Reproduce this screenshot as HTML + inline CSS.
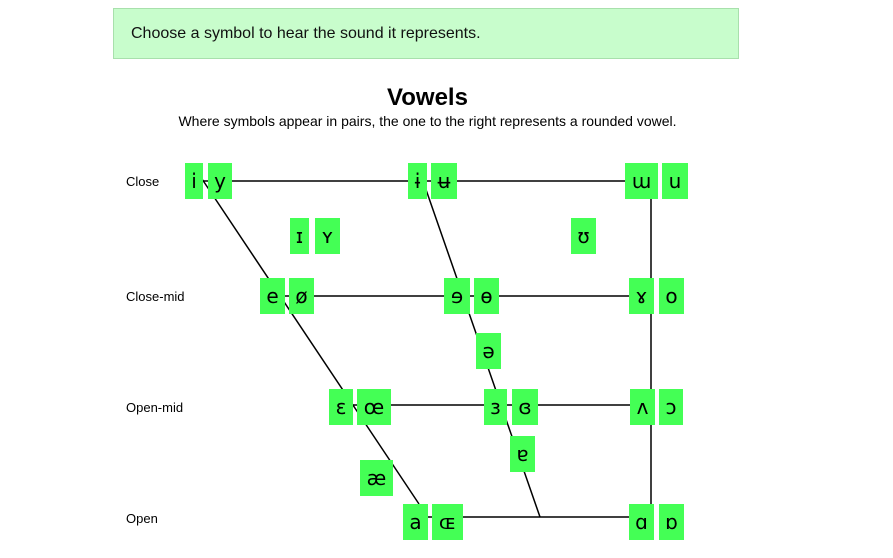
<!DOCTYPE html>
<html><head><meta charset="utf-8"><style>
html,body{margin:0;padding:0;background:#fff;width:893px;height:558px;overflow:hidden;font-family:"Liberation Sans",sans-serif;}
.banner{position:absolute;left:113px;top:8px;width:624px;height:49px;background:#c8fdcc;border:1px solid #a8e0ac;}
.banner span{position:absolute;left:17px;top:16px;font-size:16px;color:#111;}
.t{position:absolute;left:0;width:855px;text-align:center;color:#000;}
.b{position:absolute;background:#44ff55;font-family:"DejaVu Sans",sans-serif;font-size:20px;color:#000;display:flex;align-items:center;justify-content:center;height:36px;}
.l{position:absolute;left:126px;font-size:13px;color:#000;}
</style></head><body>
<div class="banner"><span>Choose a symbol to hear the sound it represents.</span></div>
<div class="t" style="top:84px;font-size:24px;font-weight:bold;">Vowels</div>
<div class="t" style="top:113px;font-size:14px;">Where symbols appear in pairs, the one to the right represents a rounded vowel.</div>
<svg style="position:absolute;left:0;top:0" width="893" height="558">
<g stroke="#000" stroke-width="1.5" fill="none">
<line x1="203" y1="181" x2="651" y2="181"/>
<line x1="285" y1="296" x2="651" y2="296"/>
<line x1="353" y1="405" x2="651" y2="405"/>
<line x1="428" y1="517" x2="651" y2="517"/>
<line x1="651" y1="181" x2="651" y2="517"/>
<line x1="200" y1="176" x2="419" y2="504"/>
<line x1="423" y1="181" x2="540" y2="517"/>
</g></svg>
<div class="l" style="top:174px">Close</div>
<div class="l" style="top:289px">Close-mid</div>
<div class="l" style="top:400px">Open-mid</div>
<div class="l" style="top:511px">Open</div>
<div class="b" style="left:185px;top:163px;width:18px">i</div>
<div class="b" style="left:208px;top:163px;width:24px">y</div>
<div class="b" style="left:408px;top:163px;width:19px">ɨ</div>
<div class="b" style="left:431px;top:163px;width:26px">ʉ</div>
<div class="b" style="left:625px;top:163px;width:33px">ɯ</div>
<div class="b" style="left:662px;top:163px;width:26px">u</div>
<div class="b" style="left:290px;top:218px;width:19px">ɪ</div>
<div class="b" style="left:315px;top:218px;width:25px">ʏ</div>
<div class="b" style="left:571px;top:218px;width:25px">ʊ</div>
<div class="b" style="left:260px;top:278px;width:25px">e</div>
<div class="b" style="left:289px;top:278px;width:25px">ø</div>
<div class="b" style="left:444px;top:278px;width:26px">ɘ</div>
<div class="b" style="left:474px;top:278px;width:25px">ɵ</div>
<div class="b" style="left:629px;top:278px;width:25px">ɤ</div>
<div class="b" style="left:659px;top:278px;width:25px">o</div>
<div class="b" style="left:476px;top:333px;width:25px">ə</div>
<div class="b" style="left:329px;top:389px;width:24px">ɛ</div>
<div class="b" style="left:357px;top:389px;width:34px">œ</div>
<div class="b" style="left:484px;top:389px;width:23px">ɜ</div>
<div class="b" style="left:512px;top:389px;width:26px">ɞ</div>
<div class="b" style="left:630px;top:389px;width:25px">ʌ</div>
<div class="b" style="left:659px;top:389px;width:24px">ɔ</div>
<div class="b" style="left:510px;top:436px;width:25px">ɐ</div>
<div class="b" style="left:360px;top:460px;width:33px">æ</div>
<div class="b" style="left:403px;top:504px;width:25px">a</div>
<div class="b" style="left:432px;top:504px;width:31px">ɶ</div>
<div class="b" style="left:629px;top:504px;width:25px">ɑ</div>
<div class="b" style="left:659px;top:504px;width:25px">ɒ</div>
</body></html>
